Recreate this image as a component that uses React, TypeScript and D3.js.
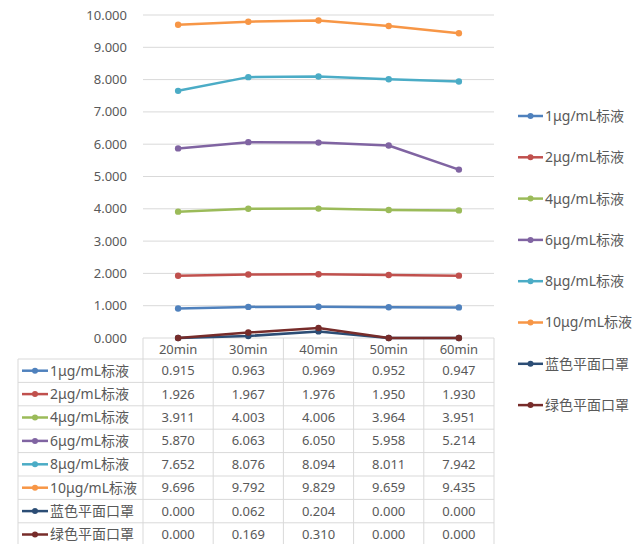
import * as d3 from "d3";

const categories = ["20min", "30min", "40min", "50min", "60min"];
const seriesNames = [
  "1μg/mL标液",
  "2μg/mL标液",
  "4μg/mL标液",
  "6μg/mL标液",
  "8μg/mL标液",
  "10μg/mL标液",
  "蓝色平面口罩",
  "绿色平面口罩",
];
const s1 = [0.915, 0.963, 0.969, 0.952, 0.947];
const s2 = [1.926, 1.967, 1.976, 1.95, 1.93];
const s4 = [3.911, 4.003, 4.006, 3.964, 3.951];
const s6 = [5.87, 6.063, 6.05, 5.958, 5.214];
const s8 = [7.652, 8.076, 8.094, 8.011, 7.942];
const s10 = [9.696, 9.792, 9.829, 9.659, 9.435];
const blueMask = [0.0, 0.062, 0.204, 0.0, 0.0];
const greenMask = [0.0, 0.169, 0.31, 0.0, 0.0];
const seriesValues = [s1, s2, s4, s6, s8, s10, blueMask, greenMask];
const colors = ["#4F81BD", "#C0504D", "#9BBB59", "#8064A2", "#4BACC6", "#F79646", "#2C4D75", "#772C2A"];
const yTicks = [0, 1, 2, 3, 4, 5, 6, 7, 8, 9, 10];

const W = 640;
const H = 552;
const PLOT = { left: 143, right: 494, top: 15, bottom: 338 };
const TABLE_LEFT = 18;
const TABLE_TOP = 359;
const ROW_H = 23.4;
const FONT = "'Noto Sans', 'Noto Sans CJK SC', sans-serif";
const TEXT = "#595959";
const GRID = "#d9d9d9";

export default function App() {
  const x = d3.scaleBand<string>().domain(categories).range([PLOT.left, PLOT.right]);
  const y = d3.scaleLinear().domain([0, 10]).range([PLOT.bottom, PLOT.top]);
  const cx = (c: string) => (x(c) ?? 0) + x.bandwidth() / 2;
  const line = d3
    .line<number>()
    .x((_, i) => cx(categories[i]))
    .y((d) => y(d));
  const tableBottom = TABLE_TOP + ROW_H * seriesNames.length;

  return (
    <svg width={W} height={H} style={{ display: "block", margin: -8, fontFamily: FONT }}>
      <rect x={0.5} y={0.5} width={W - 7} height={H - 2} fill="#fff" stroke={GRID} />

      {/* gridlines + y labels */}
      {yTicks.map((t) => (
        <g key={t}>
          <line x1={PLOT.left} x2={PLOT.right} y1={y(t)} y2={y(t)} stroke={GRID} />
          <text x={127} y={y(t)} dy="0.35em" textAnchor="end" fontSize={13} fill={TEXT}>
            {t.toFixed(3)}
          </text>
        </g>
      ))}

      {/* table grid */}
      <g stroke={GRID} fill="none">
        {x.range() && [PLOT.left, ...categories.map((c) => (x(c) ?? 0) + x.bandwidth())].map((xx, i) => (
          <line key={i} x1={xx} x2={xx} y1={PLOT.bottom} y2={tableBottom} />
        ))}
        <line x1={TABLE_LEFT} x2={TABLE_LEFT} y1={TABLE_TOP} y2={tableBottom} />
        {d3.range(seriesNames.length + 1).map((i) => (
          <line key={i} x1={TABLE_LEFT} x2={PLOT.right} y1={TABLE_TOP + i * ROW_H} y2={TABLE_TOP + i * ROW_H} />
        ))}
      </g>

      {/* category header */}
      {categories.map((c) => (
        <text key={c} x={cx(c)} y={(PLOT.bottom + TABLE_TOP) / 2 + 1} dy="0.35em" textAnchor="middle" fontSize={13} fill={TEXT}>
          {c}
        </text>
      ))}

      {/* table rows */}
      {seriesNames.map((name, si) => {
        const ry = TABLE_TOP + si * ROW_H + ROW_H / 2;
        return (
          <g key={name}>
            <line x1={22} x2={48} y1={ry} y2={ry} stroke={colors[si]} strokeWidth={2.5} />
            <circle cx={35} cy={ry} r={3} fill={colors[si]} />
            <text x={50} y={ry} dy="0.35em" fontSize={14} fill={TEXT}>
              {name}
            </text>
            {seriesValues[si].map((v, i) => (
              <text key={i} x={cx(categories[i])} y={ry} dy="0.35em" textAnchor="middle" fontSize={13} fill={TEXT}>
                {v.toFixed(3)}
              </text>
            ))}
          </g>
        );
      })}

      {/* series lines */}
      {seriesValues.map((vals, si) => (
        <g key={si}>
          <path d={line(vals) ?? ""} fill="none" stroke={colors[si]} strokeWidth={2.5} strokeLinejoin="round" />
          {vals.map((v, i) => (
            <circle key={i} cx={cx(categories[i])} cy={y(v)} r={3.2} fill={colors[si]} />
          ))}
        </g>
      ))}

      {/* legend */}
      {seriesNames.map((name, si) => {
        const ly = 116 + si * 41.3;
        return (
          <g key={name}>
            <line x1={518} x2={543} y1={ly} y2={ly} stroke={colors[si]} strokeWidth={2.5} />
            <circle cx={530.5} cy={ly} r={3} fill={colors[si]} />
            <text x={545} y={ly} dy="0.35em" fontSize={14} fill={TEXT}>
              {name}
            </text>
          </g>
        );
      })}
    </svg>
  );
}
